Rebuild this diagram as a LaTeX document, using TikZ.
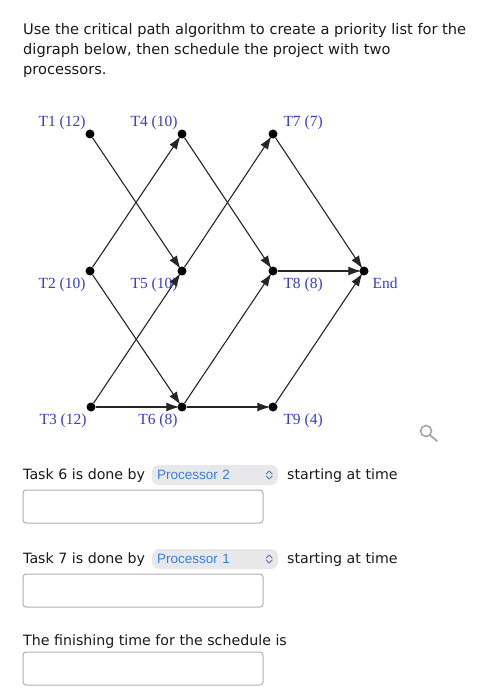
\documentclass[tikz,border=0pt]{standalone}
\usepackage{fontspec}
\setmainfont{DejaVu Sans}
\newfontfamily\labelfont{Liberation Serif}
\newfontfamily\menufont{Liberation Sans}
\usetikzlibrary{arrows.meta, positioning, calc}
\definecolor{TaskBlue}{RGB}{58, 58, 200}
\definecolor{MenuBlue}{RGB}{60, 125, 220}
\definecolor{MenuGrey}{RGB}{232, 232, 234}
\definecolor{BoxGrey}{RGB}{175, 175, 175}
\definecolor{IconGrey}{RGB}{165, 165, 165}
\definecolor{TextDark}{RGB}{25, 25, 25}

\begin{document}
\begin{tikzpicture}[
  x=1pt, y=-1pt,
  dot/.style={circle, fill=black, inner sep=0pt, minimum size=9pt},
  tasklabel/.style={font=\labelfont\fontsize{15.5}{17}\selectfont, text=TaskBlue, inner sep=1pt},
  arrow/.style={-{Latex[length=13pt, width=9pt]}, line width=1.1pt, draw=black!85, shorten >=-2pt},
  prose/.style={font=\fontsize{14.2}{20}\selectfont, text=TextDark, inner sep=0pt},
  menu/.style={rectangle, rounded corners=7pt, fill=MenuGrey,
    minimum width=126pt, minimum height=20pt, inner xsep=5pt, inner ysep=0pt,
    text width=116pt, align=left, font=\menufont\fontsize{13.5}{15}\selectfont, text=MenuBlue},
  chevron/.style={line width=1.1pt, draw=MenuBlue!60!black!70, line cap=round, line join=round},
  answer/.style={rectangle, rounded corners=3pt, draw=BoxGrey, line width=1pt,
    minimum width=240pt, minimum height=33pt, inner sep=0pt},
]
\useasboundingbox (0,0) rectangle (488,700);

% question
\node[prose, font=\fontsize{14.6}{20}\selectfont, anchor=north west, align=left] (question) at (23,23)
  {Use the critical path algorithm to create a priority list for the\\
   digraph below, then schedule the project with two\\
   processors.};

% tasks
\node[dot] (t1) at (90,134) {};
\node[dot] (t4) at (182,134) {};
\node[dot] (t7) at (273,134) {};
\node[dot] (t2) at (90,271) {};
\node[dot] (t5) at (182,271) {};
\node[dot] (t8) at (273,271) {};
\node[dot] (end) at (364,271) {};
\node[dot] (t3) at (91,407) {};
\node[dot] (t6) at (182,407) {};
\node[dot] (t9) at (273,407) {};

\node[tasklabel, above left=0pt of t1] (t1l) {T1 (12)};
\node[tasklabel, above left=0pt of t4] (t4l) {T4 (10)};
\node[tasklabel, above right=0pt and 6pt of t7] (t7l) {T7 (7)};
\node[tasklabel, below left=2pt and 0pt of t2] (t2l) {T2 (10)};
\node[tasklabel, below left=2pt and 0pt of t5] (t5l) {T5 (10)};
\node[tasklabel, below right=2pt and 6pt of t8] (t8l) {T8 (8)};
\node[tasklabel, below right=2pt and 4pt of end] (endl) {End};
\node[tasklabel, below left=2pt and 0pt of t3] (t3l) {T3 (12)};
\node[tasklabel, below left=2pt and 0pt of t6] (t6l) {T6 (8)};
\node[tasklabel, below right=2pt and 6pt of t9] (t9l) {T9 (4)};

\draw[arrow] (t1) -- (t5);
\draw[arrow] (t2) -- (t4);
\draw[arrow] (t2) -- (t6);
\draw[arrow] (t3) -- (t5);
\draw[arrow] (t3) -- (t6);
\draw[arrow] (t4) -- (t8);
\draw[arrow] (t5) -- (t7);
\draw[arrow] (t6) -- (t8);
\draw[arrow] (t6) -- (t9);
\draw[arrow] (t7) -- (end);
\draw[arrow] (t8) -- (end);
\draw[arrow] (t9) -- (end);

% search icon
\node[circle, draw=IconGrey, line width=1.6pt, minimum size=11pt, inner sep=0pt] (lens) at (426,431) {};
\coordinate (grip) at (437,441);
\draw[IconGrey, line width=1.8pt, line cap=round] (lens.south east) -- (grip);

% answers
\node[prose, anchor=base west] (t6text) at (23,479) {Task 6 is done by};
\node[menu] (t6menu) at (215,475) {Processor 2};
\node[prose, anchor=base west] (t6start) at (287,479) {starting at time};
\node[answer] (t6box) at (143,506.5) {};
\draw[chevron] ($(t6menu.east)+(-12,-1)$) -- ++(3,-3) -- ++(3,3)
               ($(t6menu.east)+(-12,1)$) -- ++(3,3) -- ++(3,-3);

\node[prose, anchor=base west] (t7text) at (23,563) {Task 7 is done by};
\node[menu] (t7menu) at (215,559) {Processor 1};
\node[prose, anchor=base west] (t7start) at (287,563) {starting at time};
\node[answer] (t7box) at (143,590.5) {};
\draw[chevron] ($(t7menu.east)+(-12,-1)$) -- ++(3,-3) -- ++(3,3)
               ($(t7menu.east)+(-12,1)$) -- ++(3,3) -- ++(3,-3);

\node[prose, anchor=base west] (fintext) at (23,645) {The finishing time for the schedule is};
\node[answer] (finbox) at (143,668.5) {};
\end{tikzpicture}
\end{document}
